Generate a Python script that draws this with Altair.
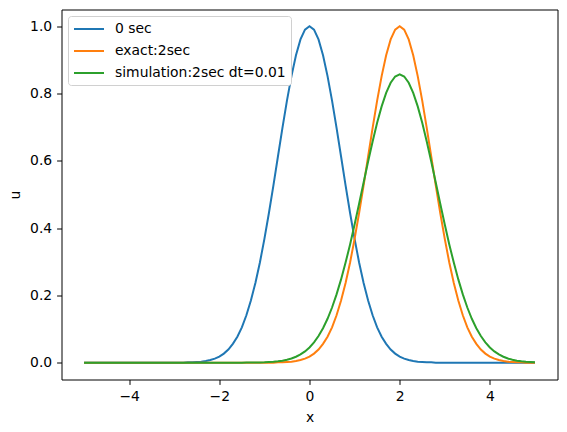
"""Diffusion of a gaussian pulse: initial, exact and simulated profiles."""
import pandas as pd
import altair as alt

x = [-5.0, -4.9, -4.8, -4.7, -4.6, -4.5, -4.4, -4.3, -4.2, -4.1,
     -4.0, -3.9, -3.8, -3.7, -3.6, -3.5, -3.4, -3.3, -3.2, -3.1,
     -3.0, -2.9, -2.8, -2.7, -2.6, -2.5, -2.4, -2.3, -2.2, -2.1,
     -2.0, -1.9, -1.8, -1.7, -1.6, -1.5, -1.4, -1.3, -1.2, -1.1,
     -1.0, -0.9, -0.8, -0.7, -0.6, -0.5, -0.4, -0.3, -0.2, -0.1,
     0.0, 0.1, 0.2, 0.3, 0.4, 0.5, 0.6, 0.7, 0.8, 0.9,
     1.0, 1.1, 1.2, 1.3, 1.4, 1.5, 1.6, 1.7, 1.8, 1.9,
     2.0, 2.1, 2.2, 2.3, 2.4, 2.5, 2.6, 2.7, 2.8, 2.9,
     3.0, 3.1, 3.2, 3.3, 3.4, 3.5, 3.6, 3.7, 3.8, 3.9,
     4.0, 4.1, 4.2, 4.3, 4.4, 4.5, 4.6, 4.7, 4.8, 4.9, 5.0]

u_start = [0.0, 0.0, 0.0, 0.0, 0.0, 0.0, 0.0, 0.0, 0.0, 0.0,
           0.0, 0.0, 0.0, 0.0, 0.0, 0.0, 0.0, 0.0, 0.0, 0.0,
           0.0, 0.0, 0.0, 0.001, 0.001, 0.002, 0.003, 0.005, 0.008, 0.012,
           0.018, 0.027, 0.039, 0.056, 0.077, 0.105, 0.141, 0.185, 0.237, 0.298,
           0.368, 0.445, 0.527, 0.613, 0.698, 0.779, 0.852, 0.914, 0.961, 0.990,
           1.0, 0.990, 0.961, 0.914, 0.852, 0.779, 0.698, 0.613, 0.527, 0.445,
           0.368, 0.298, 0.237, 0.185, 0.141, 0.105, 0.077, 0.056, 0.039, 0.027,
           0.018, 0.012, 0.008, 0.005, 0.003, 0.002, 0.001, 0.001, 0.0, 0.0,
           0.0, 0.0, 0.0, 0.0, 0.0, 0.0, 0.0, 0.0, 0.0, 0.0,
           0.0, 0.0, 0.0, 0.0, 0.0, 0.0, 0.0, 0.0, 0.0, 0.0, 0.0]

u_exact = [0.0, 0.0, 0.0, 0.0, 0.0, 0.0, 0.0, 0.0, 0.0, 0.0,
           0.0, 0.0, 0.0, 0.0, 0.0, 0.0, 0.0, 0.0, 0.0, 0.0,
           0.0, 0.0, 0.0, 0.0, 0.0, 0.0, 0.0, 0.0, 0.0, 0.0,
           0.0, 0.0, 0.0, 0.0, 0.0, 0.0, 0.0, 0.0, 0.0, 0.0,
           0.0, 0.0, 0.0, 0.001, 0.001, 0.002, 0.003, 0.005, 0.008, 0.012,
           0.018, 0.027, 0.039, 0.056, 0.077, 0.105, 0.141, 0.185, 0.237, 0.298,
           0.368, 0.445, 0.527, 0.613, 0.698, 0.779, 0.852, 0.914, 0.961, 0.990,
           1.0, 0.990, 0.961, 0.914, 0.852, 0.779, 0.698, 0.613, 0.527, 0.445,
           0.368, 0.298, 0.237, 0.185, 0.141, 0.105, 0.077, 0.056, 0.039, 0.027,
           0.018, 0.012, 0.008, 0.005, 0.003, 0.002, 0.001, 0.001, 0.0, 0.0, 0.0]

u_sim = [0.0, 0.0, 0.0, 0.0, 0.0, 0.0, 0.0, 0.0, 0.0, 0.0,
         0.0, 0.0, 0.0, 0.0, 0.0, 0.0, 0.0, 0.0, 0.0, 0.0,
         0.0, 0.0, 0.0, 0.0, 0.0, 0.0, 0.0, 0.0, 0.0, 0.0,
         0.0, 0.0, 0.0, 0.0, 0.0, 0.0001, 0.0002, 0.0003, 0.0005, 0.0007,
         0.0011, 0.0018, 0.0027, 0.0040, 0.0060, 0.0087, 0.0124, 0.0176, 0.0245, 0.0335,
         0.0453, 0.0604, 0.0793, 0.1025, 0.1306, 0.1640, 0.2030, 0.2476, 0.2975, 0.3515,
         0.4110, 0.4726, 0.5355, 0.5979, 0.6578, 0.7132, 0.7619, 0.8022, 0.8322, 0.8507,
         0.857, 0.8507, 0.8322, 0.8022, 0.7619, 0.7132, 0.6578, 0.5979, 0.5355, 0.4726,
         0.4110, 0.3515, 0.2975, 0.2476, 0.2030, 0.1640, 0.1306, 0.1025, 0.0793, 0.0604,
         0.0453, 0.0335, 0.0245, 0.0176, 0.0124, 0.0087, 0.0060, 0.0040, 0.0027, 0.0018, 0.0011]

series_names = ["0 sec", "exact:2sec", "simulation:2sec dt=0.01"]
series_colors = ["#1f77b4", "#ff7f0e", "#2ca02c"]

frames = []
for i, (name, vals) in enumerate(zip(series_names, [u_start, u_exact, u_sim])):
    frames.append(pd.DataFrame({"x": x, "u": vals, "series": name, "order": i}))
df = pd.concat(frames, ignore_index=True)

font = "DejaVu Sans"

# legend swatch: a 30px line drawn from the left edge of a 14px symbol box
swatch = "M-1,0L3.29,0"

chart = alt.Chart(df).mark_line(strokeWidth=2, clip=True).encode(
    x=alt.X("x:Q", title="x",
            scale=alt.Scale(domain=[-5.5, 5.5], nice=False, zero=False),
            axis=alt.Axis(values=[-4, -2, 0, 2, 4], format="d", grid=False)),
    y=alt.Y("u:Q", title="u",
            scale=alt.Scale(domain=[-0.05, 1.05], nice=False, zero=False),
            axis=alt.Axis(values=[0, 0.2, 0.4, 0.6, 0.8, 1.0], format=".1f", grid=False)),
    color=alt.Color("series:N", sort=series_names,
                    scale=alt.Scale(domain=series_names, range=series_colors),
                    legend=alt.Legend(title=None, orient="none", legendX=6.5, legendY=6.5,
                                      symbolType=swatch, symbolSize=196, symbolStrokeWidth=2,
                                      labelFontSize=13.9, labelFont=font, labelColor="black",
                                      labelLimit=400,
                                      fillColor="white", strokeColor="#d0d0d0",
                                      cornerRadius=3, padding=5, rowPadding=7,
                                      labelOffset=26)),
    detail="order:O",
).properties(
    width=496, height=370,
    autosize=alt.AutoSizeParams(type="none"),
    padding={"left": 53.5, "top": 1.5, "right": 1, "bottom": 44},
).configure_view(
    stroke="black", strokeWidth=1
).configure_axis(
    domain=False, tickColor="black", tickSize=4.9, tickWidth=1,
    labelFont=font, labelFontSize=13.9, labelColor="black", labelPadding=4.9,
    titleFont=font, titleFontSize=13.9, titleFontWeight="normal", titleColor="black",
).configure_axisX(
    titlePadding=7
).configure_axisY(
    titlePadding=7
)

chart.save("out.html", embed_options={"renderer": "svg", "actions": False})
